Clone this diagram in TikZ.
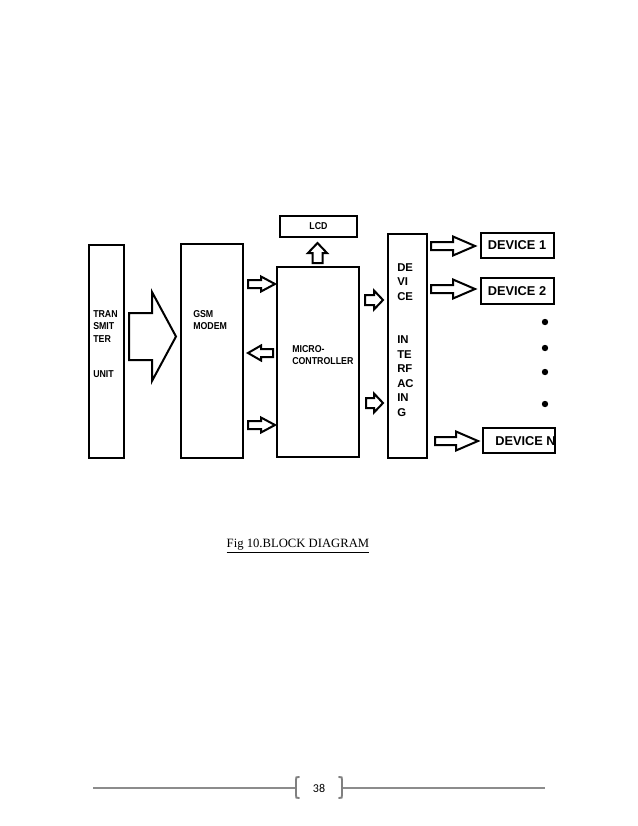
\documentclass[tikz,border=0pt]{standalone}
\usepackage{fontspec}
\setmainfont{Liberation Sans}
\newfontfamily\lblfont[FakeStretch=0.88]{Liberation Sans}
\newfontfamily\capfont{Liberation Serif}
\newfontfamily\pagefont{Carlito}
\usetikzlibrary{positioning}

% hollow block arrow: tail x, tail y, rotation, length, shaft half, head half, head length
\newcommand{\fatarrow}[7]{%
  \draw[arrowline, shift={(#1,#2)}, rotate=#3]
    (0,-#5) -- ({#4-#7},-#5) -- ({#4-#7},-#6) -- (#4,0)
    -- ({#4-#7},#6) -- ({#4-#7},#5) -- (0,#5) -- cycle;}

\begin{document}
\begin{tikzpicture}[
    x=0.75pt,
    y=-0.75pt,
    blockbox/.style={draw, line width=1.5pt, inner sep=0pt},
    arrowline/.style={line width=1.5pt, line join=miter},
    lbl/.style={font=\lblfont\bfseries\fontsize{7.5}{9.4}\selectfont, inner sep=0pt, anchor=north west, align=left},
    devlbl/.style={font=\bfseries\fontsize{9.6}{11}\selectfont},
    footline/.style={draw=black!45, line width=0.8pt},
    bracketline/.style={draw=black!50, line width=1.4pt, line cap=round}
]
  \useasboundingbox (0,0) rectangle (638,826);

  % blocks
  \node[blockbox, minimum width=26.25pt, minimum height=159.75pt] (tx) at (106.5,351.5) {};
  \node[blockbox, minimum width=46.5pt, minimum height=160.5pt] (gsm) at (212,351) {};
  \node[blockbox, minimum width=57.75pt, minimum height=15.75pt, font=\lblfont\bfseries\fontsize{7.5}{8}\selectfont] (lcd) at (318.5,226.5) {LCD};
  \node[blockbox, minimum width=61.5pt, minimum height=142.5pt] (mcu) at (318,362) {};
  \node[blockbox, minimum width=29.25pt, minimum height=168pt] (dif) at (407.5,346) {};
  \node[blockbox, devlbl, minimum width=54.75pt, minimum height=18.75pt] (dev1) at (517,245.5) {DEVICE 1};
  \node[blockbox, devlbl, minimum width=54.75pt, minimum height=19.5pt] (dev2) at (517,291) {DEVICE 2};
  \begin{scope}
    \clip (483,428) rectangle (555,453);
    \node[devlbl, inner sep=0pt, anchor=west] (devnt) at (495,441) {DEVICE N};
  \end{scope}
  \node[blockbox, minimum width=54pt, minimum height=18.75pt] (devn) at (519,440.5) {};

  % block texts
  \node[lbl] (txt) at (93,310) {TRAN\\SMIT\\TER\\[16.8pt]UNIT};
  \node[lbl] (gsmt) at (193,310) {GSM\\MODEM};
  \node[lbl] (mcut) at (292,345) {MICRO-\\CONTROLLER};
  \node[lbl, font=\bfseries\fontsize{8.5}{10.9}\selectfont] (dift) at (397,263) {DE\\VI\\CE\\[21.8pt]IN\\TE\\RF\\AC\\IN\\G};

  % block arrows
  \fatarrow{129}{336.5}{0}{47}{23.5}{44.5}{24}
  \fatarrow{248}{284}{0}{27}{4}{7.5}{14}
  \fatarrow{273}{353}{180}{25}{4}{7.5}{13}
  \fatarrow{248}{425}{0}{27}{4}{7.5}{14}
  \fatarrow{317.5}{263}{90}{20}{5}{9.5}{10}
  \fatarrow{365}{300}{0}{18}{5}{9.5}{9}
  \fatarrow{366}{403}{0}{17}{5}{9.5}{9}
  \fatarrow{431}{246}{0}{44}{4}{9.5}{22}
  \fatarrow{431}{289}{0}{44}{4}{9.5}{22}
  \fatarrow{435}{441}{0}{43}{4}{9.5}{22}

  % dots
  \foreach \y in {322,348,372,404}
    \fill (545,\y) circle (2.4pt);

  % caption
  \node[font=\capfont\fontsize{9.5}{11}\selectfont] (cap) at (298,546) {\underline{Fig 10.BLOCK DIAGRAM}};

  % footer
  \draw[footline] (93,788) -- (296,788);
  \draw[footline] (342,788) -- (545,788);
  \draw[bracketline] (299,777) .. controls (296,777) .. (296,780) -- (296,795) .. controls (296,798) .. (299,798);
  \draw[bracketline] (339,777) .. controls (342,777) .. (342,780) -- (342,795) .. controls (342,798) .. (339,798);
  \node[font=\pagefont\fontsize{9}{10}\selectfont] (pgno) at (319,788) {38};
\end{tikzpicture}
\end{document}
